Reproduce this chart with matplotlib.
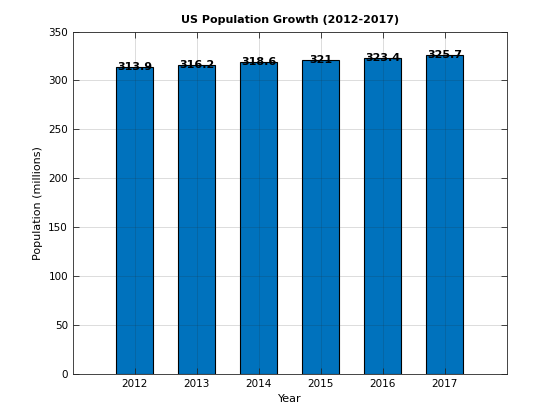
import matplotlib.pyplot as plt

# Datos
years = [2012, 2013, 2014, 2015, 2016, 2017]
population = [313.9, 316.2, 318.6, 321, 323.4, 325.7]
labels = ["313.9", "316.2", "318.6", "321", "323.4", "325.7"]

fig = plt.figure(figsize=(5.6, 4.2), dpi=100)
ax = fig.add_axes([0.13, 0.11, 0.775, 0.815])

ax.bar(years, population, width=0.6, color="#0072BD", edgecolor="black", linewidth=0.8, zorder=1)

for x, y, t in zip(years, population, labels):
    ax.text(x, y, t, ha="center", va="center", fontsize=8, fontweight="bold", zorder=4)

ax.set_xlim(2011, 2018)
ax.set_ylim(0, 350)
ax.set_xticks(years)
ax.set_yticks(range(0, 351, 50))
# grilla encima de las barras, semitransparente
ax.grid(True, color="#262626", linewidth=0.6, alpha=0.18, zorder=3)
ax.set_axisbelow(False)
ax.tick_params(direction="in", top=True, right=True, labelsize=7.5, length=4, width=0.6, color="#262626")
for s in ax.spines.values():
    s.set_linewidth(0.6)
    s.set_color("#262626")

ax.set_title("US Population Growth (2012-2017)", fontsize=8, fontweight="bold")
ax.set_xlabel("Year", fontsize=8)
ax.set_ylabel("Population (millions)", fontsize=8)

plt.savefig("out.png", dpi=100)
